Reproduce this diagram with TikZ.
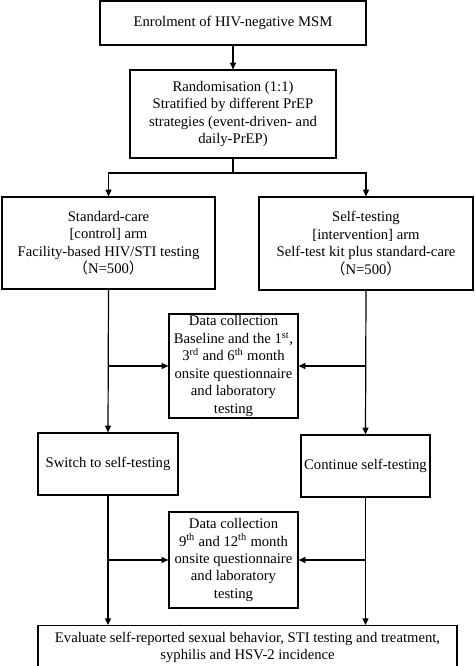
\documentclass[tikz,border=0pt]{standalone}
\usepackage{fontspec}
\setmainfont{Liberation Serif}
\newfontfamily\cjk{Noto Sans CJK SC}
\usepackage{tikz}
\usetikzlibrary{arrows.meta, positioning}

\begin{document}
\begin{tikzpicture}[
  x=0.75pt, y=-0.75pt,
  flowbox/.style={draw=black, line width=0.9pt, fill=white, align=center, inner sep=0pt, font=\fontsize{11}{13.1}\selectfont},
  arrow/.style={-{Triangle[length=5pt,width=4.5pt]}, line width=0.9pt},
  line/.style={line width=0.9pt}
]
  \useasboundingbox (0,0) rectangle (474,666);
  \clip (0,0) rectangle (474,666);
  \fill[white] (0,0) rectangle (474,666);

  % Boxes
  \node[flowbox, minimum width=199.5pt, minimum height=33pt] (enrol) at (233,23) {Enrolment of HIV-negative MSM};
  \node[flowbox, minimum width=154.5pt, minimum height=66pt] (rand) at (233,114) {Randomisation (1:1)\\Stratified by different PrEP\\strategies (event-driven- and\\daily-PrEP)};
  \node[flowbox, minimum width=159.75pt, minimum height=69pt] (std) at (108.5,243) {Standard-care\\{[}control{]} arm\\Facility-based HIV/STI testing\\{\cjk （}N=500{\cjk ）}};
  \node[flowbox, minimum width=160.5pt, minimum height=69.75pt] (self) at (366,243.5) {Self-testing\\{[}intervention{]} arm\\Self-test kit plus standard-care\\{\cjk （}N=500{\cjk ）}};
  \node[flowbox, minimum width=96.75pt, minimum height=78pt] (dc1) at (233.5,366) {Data collection\\Baseline and the 1\textsuperscript{st},\\3\textsuperscript{rd} and 6\textsuperscript{th} month\\onsite questionnaire\\and laboratory\\testing};
  \node[flowbox, minimum width=105pt, minimum height=46.5pt] (sw) at (108,464) {Switch to self-testing};
  \node[flowbox, minimum width=96.75pt, minimum height=46.5pt] (cont) at (365.5,466) {Continue self-testing};
  \node[flowbox, minimum width=96.75pt, minimum height=72pt] (dc2) at (233.5,560) {Data collection\\9\textsuperscript{th} and 12\textsuperscript{th} month\\onsite questionnaire\\and laboratory\\testing};
  \node[flowbox, minimum width=314.25pt, minimum height=33pt, anchor=north] (eval) at (247.5,625) {Evaluate self-reported sexual behavior, STI testing and treatment,\\syphilis and HSV-2 incidence};

  % Randomisation split
  \coordinate (split) at (233,173);
  \draw[arrow] (enrol) -- (rand);
  \draw[line] (rand.south) -- (split);
  \draw[arrow] (split) -| (std.north);
  \draw[arrow] (split) -| (self.north);

  % Arms
  \draw[arrow] (std.south) -- (sw.north);
  \draw[arrow] (self.south) -- (cont.north);
  \draw[arrow] (std.south |- dc1.west) -- (dc1.west);
  \draw[arrow] (self.south |- dc1.east) -- (dc1.east);

  % Follow-up
  \draw[arrow] (sw.south) -- (sw.south |- eval.north);
  \draw[arrow] (cont.south) -- (cont.south |- eval.north);
  \draw[arrow] (sw.south |- dc2.west) -- (dc2.west);
  \draw[arrow] (cont.south |- dc2.east) -- (dc2.east);
\end{tikzpicture}
\end{document}
